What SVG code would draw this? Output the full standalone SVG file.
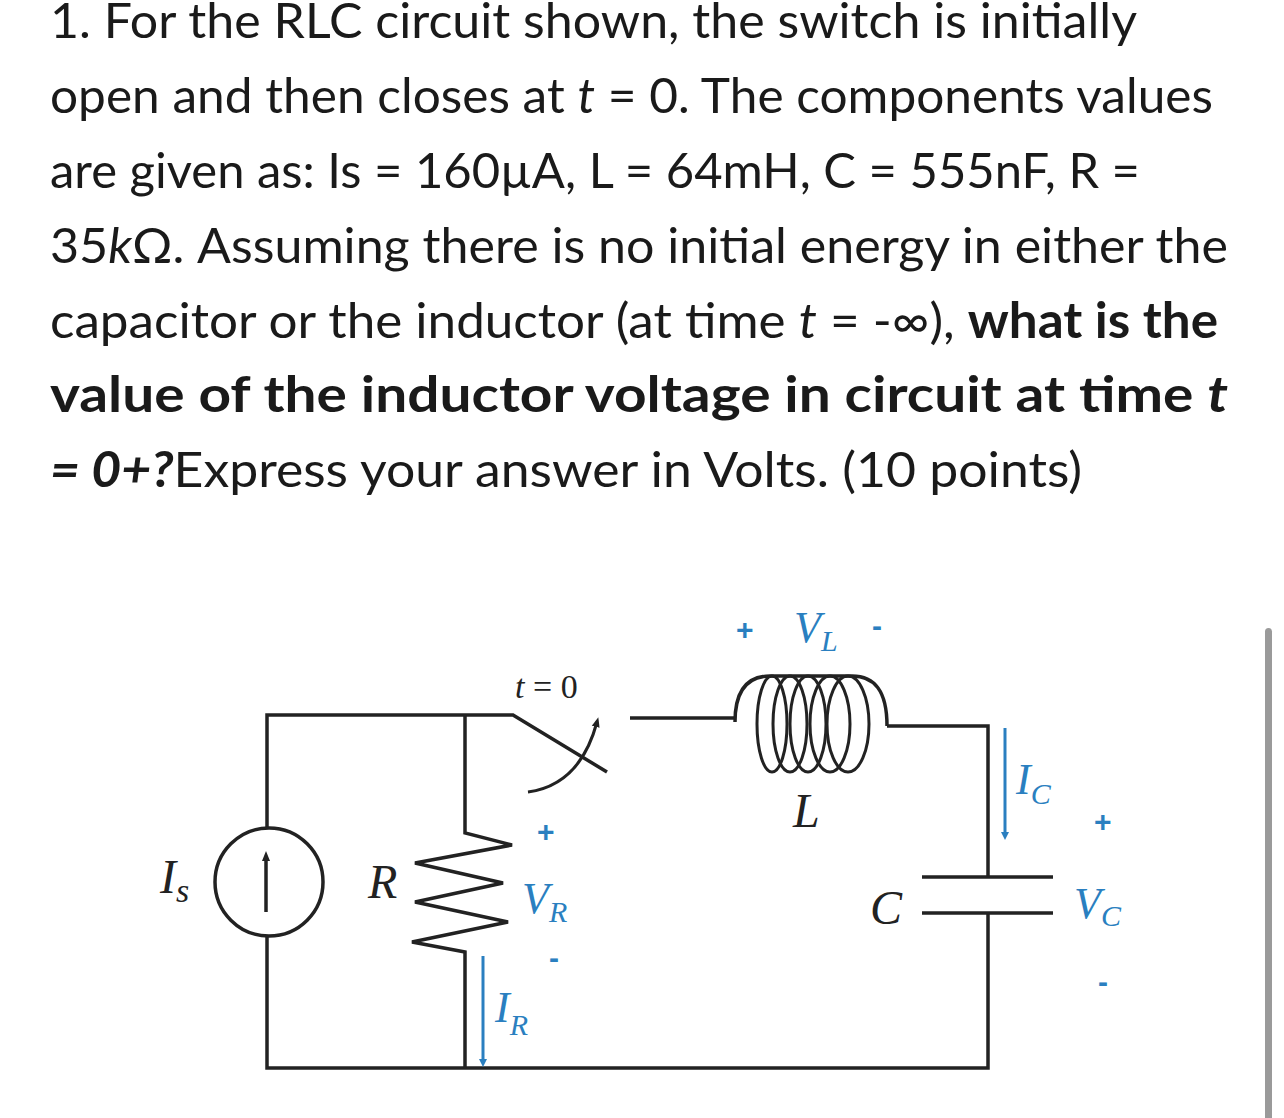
<svg xmlns="http://www.w3.org/2000/svg" width="1284" height="1118" viewBox="0 0 1284 1118">
<style>
.q{font-family:Lato,"Noto Sans",sans-serif;font-size:49px;fill:#1a1a1a}
.b{font-weight:bold}
.w{fill:none;stroke:#222;stroke-width:3.5}
.lb{font-family:"Liberation Serif",serif;font-style:italic;fill:#222}
.bl{font-family:"Liberation Serif",serif;font-style:italic;fill:#2a7fc0}
.pm{font-family:"Liberation Sans",sans-serif;fill:#2a7fc0;font-size:30px;font-weight:bold}
</style>
<defs>
<marker id="ab" markerWidth="8" markerHeight="8" refX="4" refY="4" orient="auto" markerUnits="userSpaceOnUse"><path d="M0,0 L8,4 L0,8 Z" fill="#2a7fc0"/></marker>
<marker id="ak" markerWidth="10" markerHeight="10" refX="5" refY="5" orient="auto" markerUnits="userSpaceOnUse"><path d="M0,1 L10,5 L0,9 Z" fill="#222"/></marker>
</defs>
<rect width="1284" height="1118" fill="#fff"/>
<g id="question">
<text class="q" x="50" y="38" textLength="1087" lengthAdjust="spacingAndGlyphs">1. For the RLC circuit shown, the switch is initially</text>
<text class="q" x="50" y="113" textLength="1163" lengthAdjust="spacingAndGlyphs">open and then closes at <tspan font-style="italic">t</tspan> = 0. The components values</text>
<text class="q" x="50" y="188" textLength="1090" lengthAdjust="spacingAndGlyphs">are given as: Is = 160µA, L = 64mH, C = 555nF, R =</text>
<text class="q" x="50" y="263" textLength="1178" lengthAdjust="spacingAndGlyphs">35<tspan font-style="italic">k</tspan>Ω. Assuming there is no initial energy in either the</text>
<text class="q" x="50" y="338" textLength="1168" lengthAdjust="spacingAndGlyphs">capacitor or the inductor (at time <tspan font-style="italic">t</tspan> = -∞), <tspan class="b">what is the</tspan></text>
<text class="q b" x="50" y="412" textLength="1178" lengthAdjust="spacingAndGlyphs">value of the inductor voltage in circuit at time <tspan font-style="italic">t</tspan></text>
<text class="q" x="50" y="487" textLength="1032" lengthAdjust="spacingAndGlyphs"><tspan class="b" font-style="italic">= 0+?</tspan>Express your answer in Volts. (10 points)</text>
</g>
<g id="connectors">
<path class="w" d="M267,828 V715 H513 L607,772"/>
<path class="w" d="M267,937 V1068 H988 V913"/>
<path class="w" d="M465,715 V833 L512,845 L415,863 L503,883 L415,902 L508,922 L412,942 L465,952 V1068"/>
<path class="w" d="M630,718 H735"/>
<path class="w" d="M887,726 H988 V877"/>
<path class="w" d="M922,877 H1053 M922,913 H1053"/>
<path d="M528,792 Q580,785 597,722" fill="none" stroke="#222" stroke-width="3" marker-end="url(#ak)"/>
</g>
<g id="source">
<circle cx="269" cy="882" r="54" class="w"/>
<path d="M266,912 V856" stroke="#222" stroke-width="3.5" marker-end="url(#ak)"/>
<text class="lb" x="160" y="893" font-size="48">I<tspan font-size="34" dy="9">s</tspan></text>
</g>
<g id="resistor">
<text class="lb" x="368" y="898" font-size="48">R</text>
<text class="pm" x="537" y="842">+</text>
<text class="bl" x="522" y="913" font-size="44">V<tspan font-size="30" dy="9">R</tspan></text>
<text class="pm" x="549" y="968">-</text>
<path d="M483,956 V1063" stroke="#2a7fc0" stroke-width="3" marker-end="url(#ab)"/>
<text class="bl" x="495" y="1022" font-size="44">I<tspan font-size="30" dy="13">R</tspan></text>
</g>
<g id="switch">
<text x="515" y="698" font-family="Liberation Serif,serif" font-size="34" fill="#222"><tspan font-style="italic">t</tspan> = 0</text>
</g>
<g id="inductor">
<path class="w" d="M735,722 C735,690 748,676 770,676 H852 C874,676 887,690 887,726" stroke-width="3"/>
<g fill="none" stroke="#222" stroke-width="3">
<ellipse cx="772" cy="724" rx="15" ry="48"/>
<ellipse cx="790" cy="724" rx="17" ry="48"/>
<ellipse cx="808" cy="724" rx="18" ry="48"/>
<ellipse cx="830" cy="724" rx="20" ry="48"/>
<ellipse cx="848" cy="724" rx="21" ry="48"/>
</g>
<text class="lb" x="793" y="827" font-size="48">L</text>
<text class="pm" x="736" y="640">+</text>
<text class="bl" x="794" y="642" font-size="44">V<tspan font-size="30" dy="9">L</tspan></text>
<text class="pm" x="872" y="636">-</text>
</g>
<g id="capacitor">
<path d="M1005,728 V836" stroke="#2a7fc0" stroke-width="3" marker-end="url(#ab)"/>
<text class="bl" x="1016" y="794" font-size="44">I<tspan font-size="30" dy="10">C</tspan></text>
<text class="lb" x="870" y="924" font-size="48">C</text>
<text class="pm" x="1094" y="832">+</text>
<text class="bl" x="1074" y="918" font-size="44">V<tspan font-size="30" dy="8">C</tspan></text>
<text class="pm" x="1098" y="992">-</text>
</g>
<rect x="1265" y="628" width="7" height="495" rx="3.5" fill="#9a9a9a"/>
</svg>
